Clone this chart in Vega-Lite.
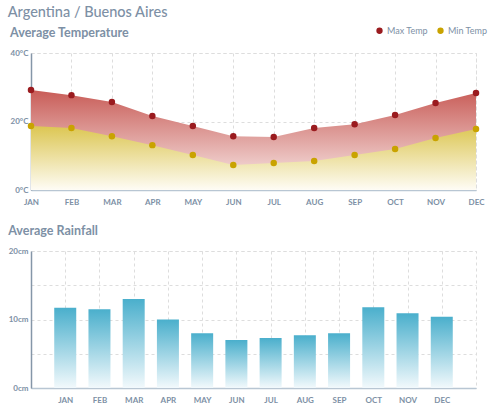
{
  "$schema": "https://vega.github.io/schema/vega-lite/v6.json",
  "background": "white",
  "padding": {"left": 7, "top": 4, "right": 12, "bottom": 2},
  "title": {
    "text": "Argentina / Buenos Aires",
    "anchor": "start",
    "frame": "bounds",
    "font": "Lato",
    "fontSize": 14.5,
    "fontWeight": 500,
    "color": "#7d90a5",
    "offset": 6
  },
  "datasets": {
    "temp": [
      {"month": "JAN", "Max Temp": 29.2, "Min Temp": 18.7},
      {"month": "FEB", "Max Temp": 27.7, "Min Temp": 18.1},
      {"month": "MAR", "Max Temp": 25.7, "Min Temp": 15.7},
      {"month": "APR", "Max Temp": 21.6, "Min Temp": 13.1},
      {"month": "MAY", "Max Temp": 18.7, "Min Temp": 10.2},
      {"month": "JUN", "Max Temp": 15.7, "Min Temp": 7.3},
      {"month": "JUL", "Max Temp": 15.5, "Min Temp": 7.9},
      {"month": "AUG", "Max Temp": 18.1, "Min Temp": 8.5},
      {"month": "SEP", "Max Temp": 19.2, "Min Temp": 10.2},
      {"month": "OCT", "Max Temp": 21.9, "Min Temp": 12.0},
      {"month": "NOV", "Max Temp": 25.4, "Min Temp": 15.2},
      {"month": "DEC", "Max Temp": 28.3, "Min Temp": 17.8}
    ],
    "rain": [
      {"month": "JAN", "rain": 11.7},
      {"month": "FEB", "rain": 11.5},
      {"month": "MAR", "rain": 13.0},
      {"month": "APR", "rain": 10.0},
      {"month": "MAY", "rain": 8.0},
      {"month": "JUN", "rain": 7.0},
      {"month": "JUL", "rain": 7.3},
      {"month": "AUG", "rain": 7.7},
      {"month": "SEP", "rain": 8.0},
      {"month": "OCT", "rain": 11.8},
      {"month": "NOV", "rain": 10.9},
      {"month": "DEC", "rain": 10.4}
    ]
  },
  "config": {
    "view": {"stroke": "#dddddd", "strokeDash": [3, 3]},
    "axis": {
      "title": null,
      "grid": true,
      "gridColor": "#dddddd",
      "gridDash": [3, 3],
      "ticks": false,
      "labelColor": "#7d90a5",
      "labelFont": "Lato",
      "labelFontWeight": "bold",
      "labelFontSize": 8
    },
    "title": {"font": "Lato", "color": "#7d90a5"}
  },
  "spacing": 17,
  "vconcat": [
    {
      "width": 445,
      "height": 137,
      "data": {"name": "temp"},
      "title": {"text": "Average Temperature", "anchor": "start", "frame": "bounds", "fontSize": 12.5, "fontWeight": "bold", "offset": 10},
      "encoding": {
        "x": {
          "field": "month",
          "type": "ordinal",
          "sort": null,
          "scale": {"type": "point", "padding": 0},
          "axis": {"labelPadding": 8, "domainColor": "#b8c6d3", "domainWidth": 1.5, "labelAngle": 0}
        }
      },
      "layer": [
        {
          "mark": {
            "type": "area",
            "color": {"gradient": "linear", "x1": 0, "y1": 0, "x2": 0, "y2": 1,
              "stops": [{"offset": 0, "color": "#c85c57"}, {"offset": 1, "color": "#fbf0ef"}]}
          },
          "encoding": {
            "y": {
              "field": "Max Temp",
              "type": "quantitative",
              "scale": {"domain": [0, 40]},
              "axis": {
                "values": [0, 10, 20, 30, 40],
                "labelExpr": "datum.value % 20 == 0 ? datum.value + '°C' : ''",
                "labelPadding": 3,
                "domainColor": "#8596a8",
                "domainWidth": 1.5
              }
            }
          }
        },
        {
          "mark": {
            "type": "area",
            "color": {"gradient": "linear", "x1": 0, "y1": 0, "x2": 0, "y2": 1,
              "stops": [{"offset": 0, "color": "#dcc652"}, {"offset": 1, "color": "#fefcf5"}]}
          },
          "encoding": {"y": {"field": "Min Temp", "type": "quantitative"}}
        },
        {
          "transform": [{"fold": ["Max Temp", "Min Temp"], "as": ["series", "value"]}],
          "mark": {"type": "circle", "size": 42, "opacity": 1},
          "encoding": {
            "y": {"field": "value", "type": "quantitative"},
            "color": {
              "field": "series",
              "type": "nominal",
              "scale": {"domain": ["Max Temp", "Min Temp"], "range": ["#9a1b1f", "#c9a300"]},
              "legend": {
                "title": null,
                "orient": "none",
                "direction": "horizontal",
                "legendX": 344,
                "legendY": -27,
                "symbolType": "circle",
                "symbolSize": 40,
                "labelOffset": 3,
                "labelFont": "Lato",
                "labelFontSize": 9,
                "labelColor": "#7d90a5",
                "columnPadding": 8
              }
            }
          }
        }
      ]
    },
    {
      "width": 445,
      "height": 137,
      "data": {"name": "rain"},
      "title": {"text": "Average Rainfall", "anchor": "start", "frame": "bounds", "fontSize": 12.5, "fontWeight": "bold", "offset": 10},
      "mark": {
        "type": "bar",
        "size": 22,
        "color": {"gradient": "linear", "x1": 0, "y1": 0, "x2": 0, "y2": 1,
          "stops": [{"offset": 0, "color": "#4aafcc"}, {"offset": 1, "color": "#f2f9fc"}]}
      },
      "encoding": {
        "x": {
          "field": "month",
          "type": "ordinal",
          "sort": null,
          "scale": {"type": "point", "padding": 1},
          "axis": {"labelPadding": 8, "domainColor": "#b8c6d3", "domainWidth": 1.5, "labelAngle": 0}
        },
        "y": {
          "field": "rain",
          "type": "quantitative",
          "scale": {"domain": [0, 20]},
          "axis": {
            "values": [0, 5, 10, 15, 20],
            "labelExpr": "datum.value % 10 == 0 ? datum.value + 'cm' : ''",
            "labelPadding": 3,
            "domainColor": "#8596a8",
            "domainWidth": 1.5
          }
        }
      }
    }
  ]
}
